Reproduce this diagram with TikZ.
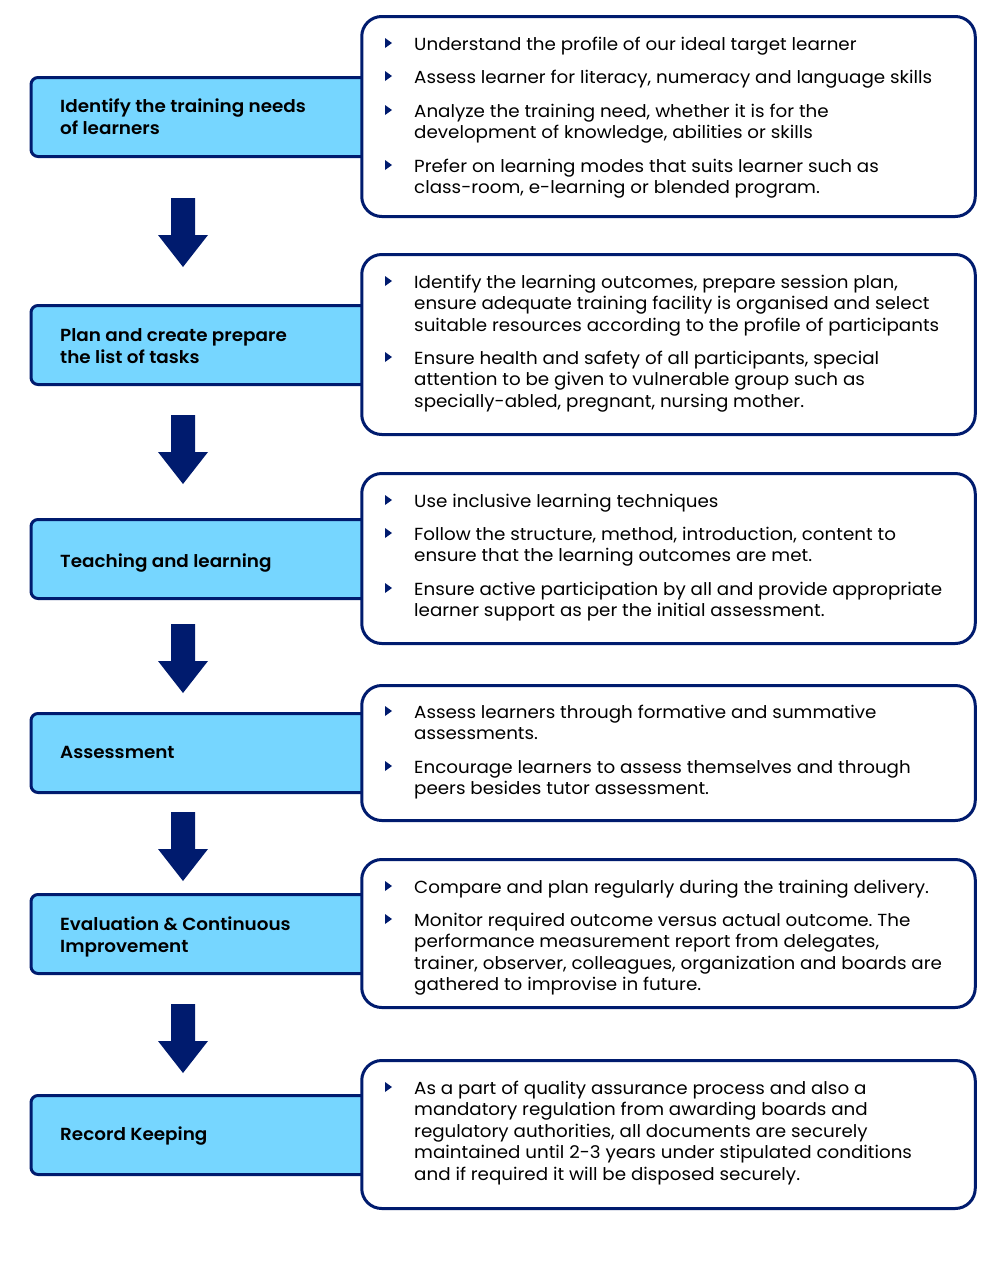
\documentclass[tikz,border=0pt]{standalone}
\usepackage{fontspec}
\setmainfont{Poppins}[FakeStretch=1.045]
\newfontfamily\semib{Poppins SemiBold}[FakeStretch=1.05]
\frenchspacing
\definecolor{navy}{HTML}{001B6E}
\definecolor{sky}{HTML}{76D6FF}
\tikzset{
  lbox/.style={draw=navy, line width=3pt, fill=sky, rounded corners=7pt, inner sep=0pt, minimum width=339pt, minimum height=79pt},
  rbox/.style={draw=navy, line width=3pt, fill=white, rounded corners=20pt, inner sep=0pt, minimum width=613.5pt},
  ltext/.style={anchor=base west, inner sep=0pt, align=left, font=\semib\fontsize{17.5}{22}\selectfont},
  itemtext/.style={anchor=base west, inner sep=0pt, align=left, font=\frenchspacing\fontsize{17.5}{21.5}\selectfont},
  blockarrow/.style={fill=navy},
}
% #1 name, #2 baseline of first line, #3 number of lines, #4 text
\newcommand\itembul[4]{%
  \node[itemtext] (#1) at (414,{#2+(#3-1)*21.5}) {#4};
  \fill[navy] (385,#2-12) -- ++(7,5) -- ++(-7,5) -- cycle;}
\newcommand\downarr[1]{%
  \fill[blockarrow] (171,#1) -- (195,#1) -- (195,#1+37) -- (208,#1+37) -- (183,#1+69) -- (158,#1+37) -- (171,#1+37) -- cycle;}
\begin{document}
\begin{tikzpicture}[x=1pt,y=-1pt]
\useasboundingbox (0,0) rectangle (1000,1283);
\fill[white] (0,0) rectangle (1000,1283);

% left boxes
\node[lbox] (L1) at (200.5,117) {};
\node[lbox] (L2) at (200.5,345) {};
\node[lbox] (L3) at (200.5,559) {};
\node[lbox] (L4) at (200.5,753) {};
\node[lbox] (L5) at (200.5,934) {};
\node[lbox] (L6) at (200.5,1135) {};

% right boxes
\node[rbox, minimum height=200pt] (R1) at (668.5,116.5) {};
\node[rbox, minimum height=180pt] (R2) at (668.5,344.5) {};
\node[rbox, minimum height=170pt] (R3) at (668.5,558.5) {};
\node[rbox, minimum height=135pt] (R4) at (668.5,753) {};
\node[rbox, minimum height=148pt] (R5) at (668.5,933.5) {};
\node[rbox, minimum height=148pt] (R6) at (668.5,1134.5) {};

% left texts (anchor at baseline of last line)
\node[ltext] (T1) at (60,134) {Identify the training needs\\of learners};
\node[ltext] (T2) at (60,363) {Plan and create prepare\\the list of tasks};
\node[ltext] (T3) at (60,567) {Teaching and learning};
\node[ltext] (T4) at (60,758) {Assessment};
\node[ltext] (T5) at (60,952) {Evaluation \& Continuous\\Improvement};
\node[ltext] (T6) at (60,1140) {Record Keeping};

% arrows
\downarr{198}
\downarr{415}
\downarr{624}
\downarr{812}
\downarr{1004}

% box 1
\itembul{a1}{50}{1}{Understand the profile of our ideal target learner}
\itembul{a2}{83}{1}{Assess learner for literacy, numeracy and language skills}
\itembul{a3}{117}{2}{Analyze the training need, whether it is for the\\development of knowledge, abilities or skills}
\itembul{a4}{172}{2}{Prefer on learning modes that suits learner such as\\class-room, e-learning or blended program.}
% box 2
\itembul{b1}{288}{3}{Identify the learning outcomes, prepare session plan,\\ensure adequate training facility is organised and select\\suitable resources according to the profile of participants}
\itembul{b2}{364}{3}{Ensure health and safety of all participants, special\\attention to be given to vulnerable group such as\\specially-abled, pregnant, nursing mother.}
% box 3
\itembul{c1}{507}{1}{Use inclusive learning techniques}
\itembul{c2}{540}{2}{Follow the structure, method, introduction, content to\\ensure that the learning outcomes are met.}
\itembul{c3}{595}{2}{Ensure active participation by all and provide appropriate\\learner support as per the initial assessment.}
% box 4
\itembul{d1}{718}{2}{Assess learners through formative and summative\\assessments.}
\itembul{d2}{773}{2}{Encourage learners to assess themselves and through\\peers besides tutor assessment.}
% box 5
\itembul{e1}{893}{1}{Compare and plan regularly during the training delivery.}
\itembul{e2}{926}{4}{Monitor required outcome versus actual outcome. The\\performance measurement report from delegates,\\trainer, observer, colleagues, organization and boards are\\gathered to improvise in future.}
% box 6
\itembul{f1}{1094}{5}{As a part of quality assurance process and also a\\mandatory regulation from awarding boards and\\regulatory authorities, all documents are securely\\maintained until 2-3 years under stipulated conditions\\and if required it will be disposed securely.}
\end{tikzpicture}
\end{document}
